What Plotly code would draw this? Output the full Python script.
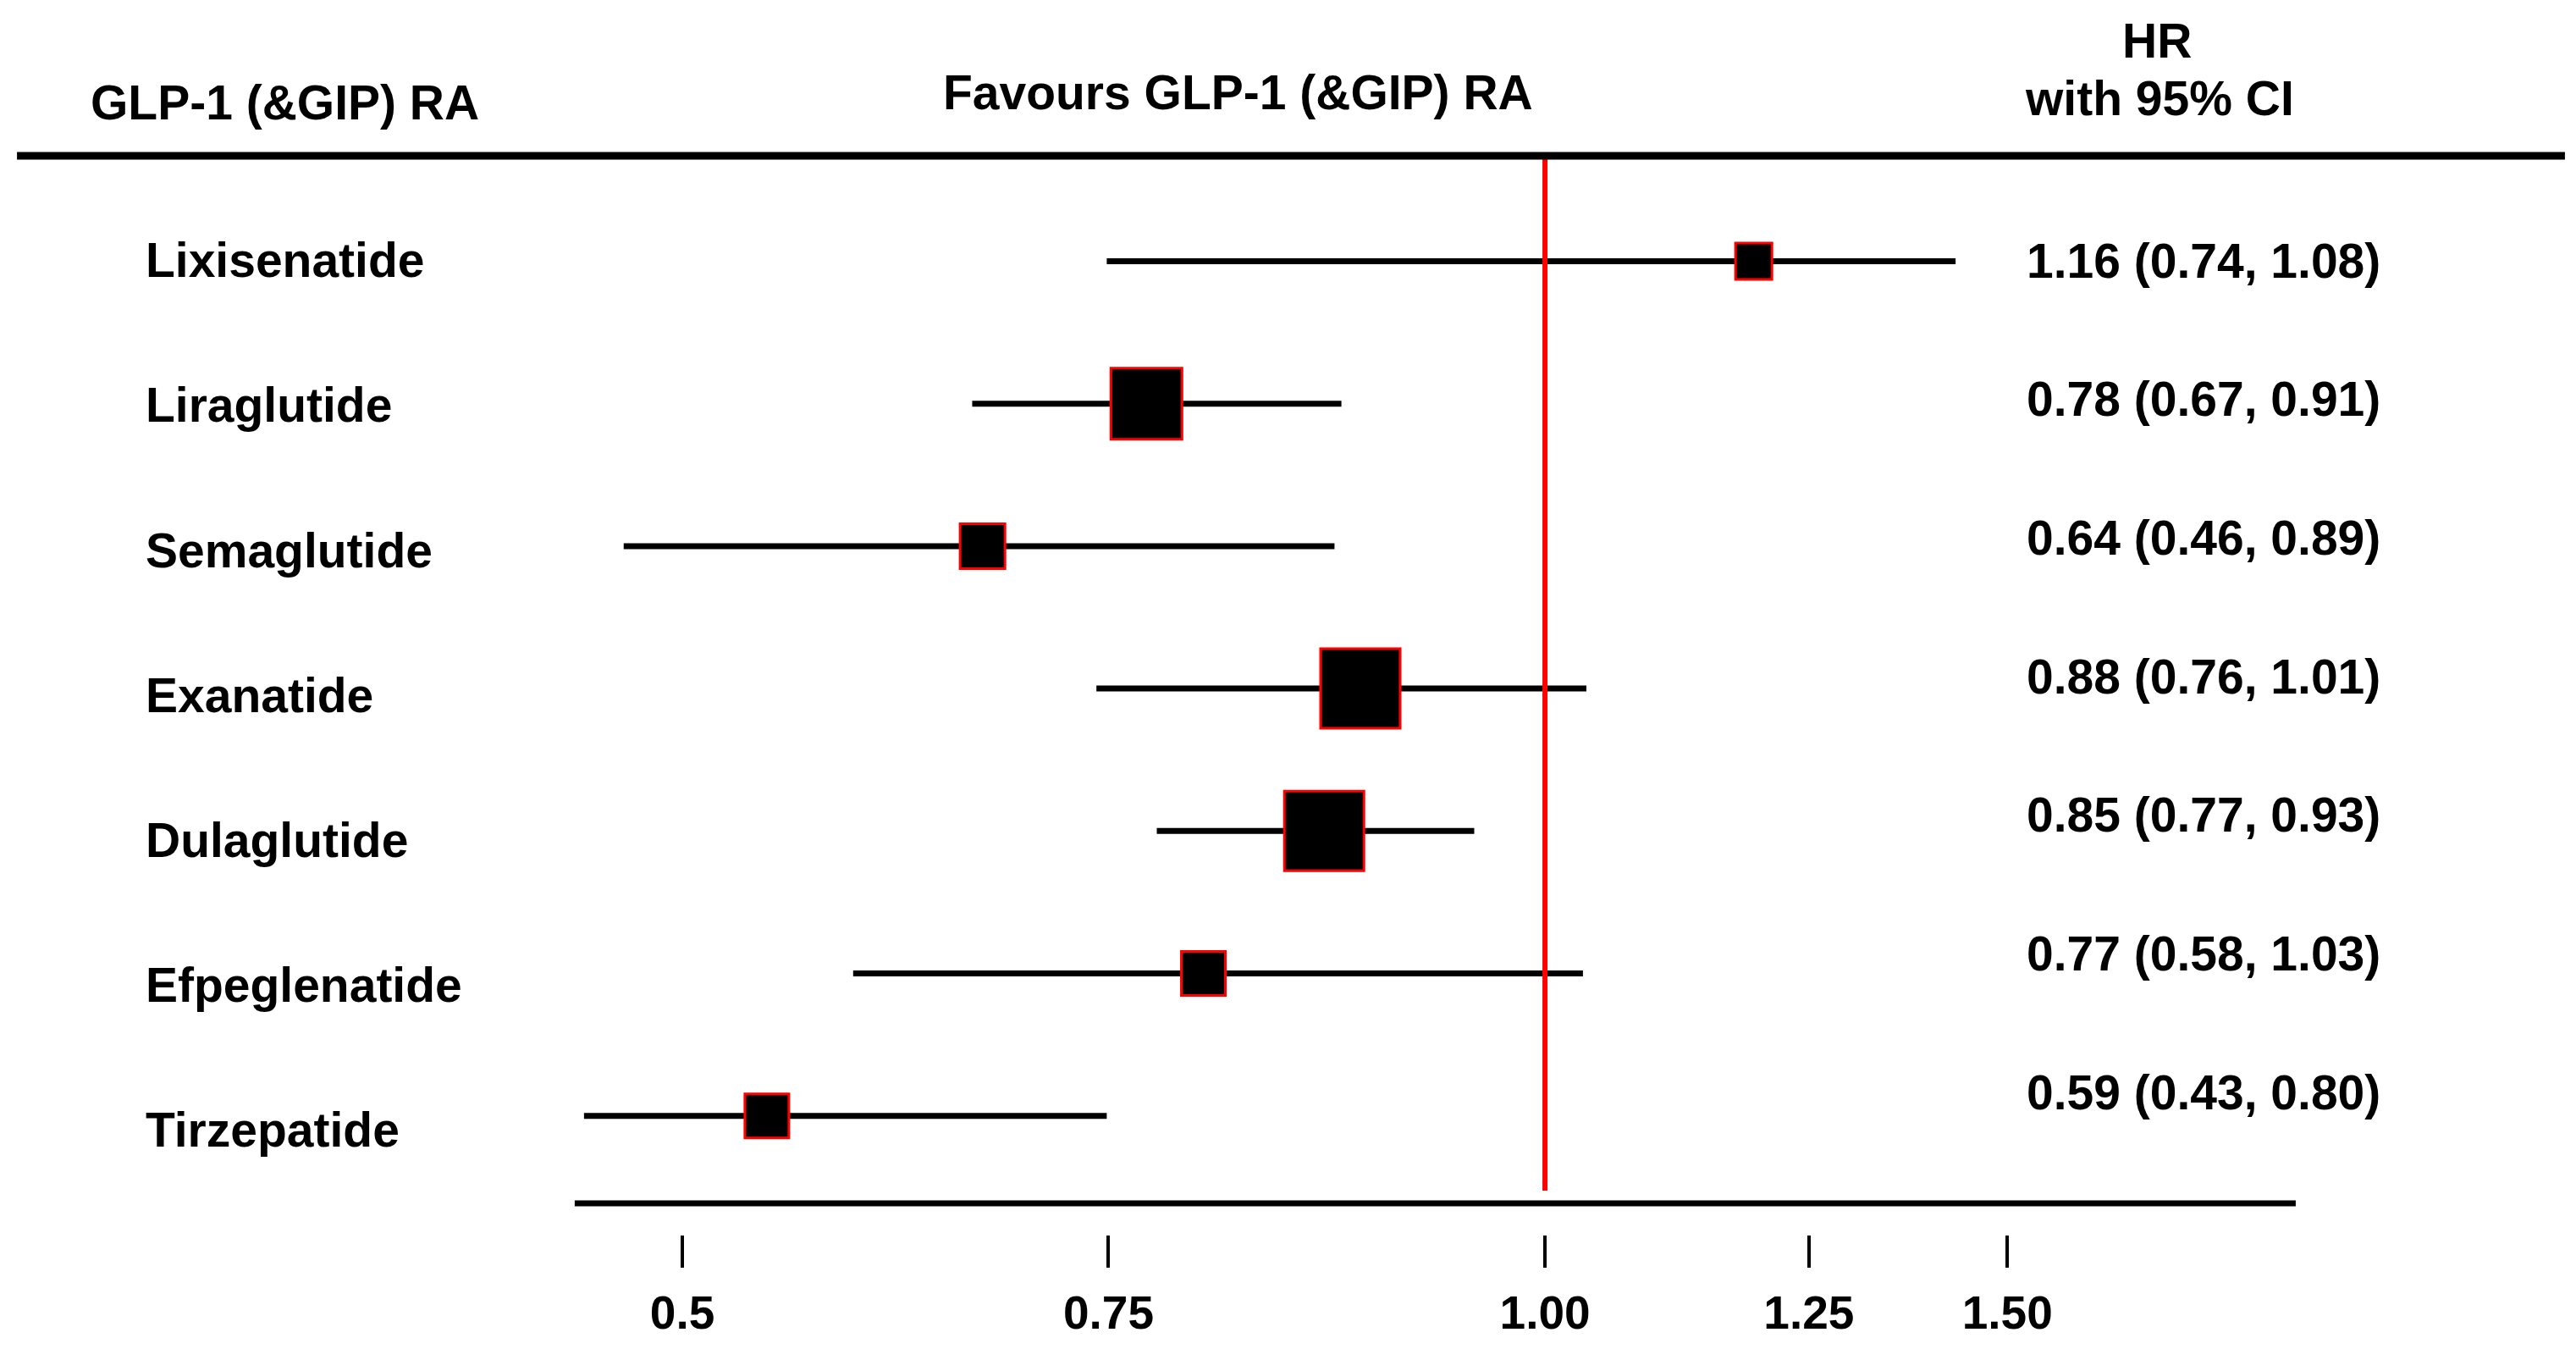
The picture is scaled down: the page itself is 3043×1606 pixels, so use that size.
import plotly.graph_objects as go

# rows, top to bottom
drugs = ["Lixisenatide", "Liraglutide", "Semaglutide", "Exanatide",
         "Dulaglutide", "Efpeglenatide", "Tirzepatide"]
hr_labels = ["1.16 (0.74, 1.08)", "0.78 (0.67, 0.91)", "0.64 (0.46, 0.89)",
             "0.88 (0.76, 1.01)", "0.85 (0.77, 0.93)", "0.77 (0.58, 1.03)",
             "0.59 (0.43, 0.80)"]

# positions as drawn on the (hand-drawn, non-uniform) HR axis of the figure
hr_pos = [1.121, 0.769, 0.674, 0.893, 0.872, 0.802, 0.549]
ci_lo = [0.746, 0.668, 0.466, 0.740, 0.775, 0.599, 0.443]
ci_hi = [1.238, 0.882, 0.878, 1.024, 0.959, 1.022, 0.746]

# axis ticks as drawn
tick_pos = [0.5, 0.747, 1.0, 1.153, 1.268]
tick_text = ["0.5", "0.75", "1.00", "1.25", "1.50"]

# box sizes (study weight), px
box_px = [43, 84, 53, 94, 94, 52, 52]

FONT = "Liberation Sans, Arial, sans-serif"
W, H = 3043, 1606
rows = list(range(len(drugs)))

fig = go.Figure()
fig.add_trace(go.Scatter(
    x=hr_pos, y=rows, mode="markers",
    marker=dict(symbol="square", size=box_px, color="black", opacity=1,
                line=dict(color="red", width=3)),
    error_x=dict(type="data", symmetric=False,
                 array=[h - p for h, p in zip(ci_hi, hr_pos)],
                 arrayminus=[p - l for p, l in zip(hr_pos, ci_lo)],
                 width=0, thickness=7, color="black"),
    showlegend=False, hoverinfo="skip",
))

# line of no effect
fig.add_shape(type="line", xref="x", yref="paper", x0=1.0, x1=1.0,
              y0=0.1245, y1=0.8854, line=dict(color="red", width=6))
# header rule and axis rule
fig.add_shape(type="line", xref="paper", yref="paper", x0=0.0066, x1=0.9957,
              y0=0.8854, y1=0.8854, line=dict(color="black", width=9))
fig.add_shape(type="line", xref="paper", yref="paper", x0=0.2231, x1=0.8912,
              y0=0.1152, y1=0.1152, line=dict(color="black", width=7))

annotations = []
for i, (name, lab) in enumerate(zip(drugs, hr_labels)):
    # the text columns sit on their own, slightly different row spacing
    annotations.append(dict(x=170 / W, xref="paper", y=i, yref="y3",
                            text=f"<b>{name}</b>", showarrow=False,
                            xanchor="left", yanchor="middle"))
    annotations.append(dict(x=2392 / W, xref="paper", y=i, yref="y2",
                            text=f"<b>{lab}</b>", showarrow=False,
                            xanchor="left", yanchor="middle"))

headers = [
    ("GLP-1 (&GIP) RA", 336, 121),
    ("Favours GLP-1 (&GIP) RA", 1462, 109),
    ("HR", 2548, 48),
    ("with 95% CI", 2551, 116),
]
for txt, px, py in headers:
    annotations.append(dict(x=px / W, xref="paper", y=1 - py / H, yref="paper",
                            text=f"<b>{txt}</b>", showarrow=False,
                            xanchor="center", yanchor="middle"))

fig.update_layout(
    width=W, height=H,
    margin=dict(l=0, r=0, t=0, b=0),
    paper_bgcolor="white", plot_bgcolor="white",
    font=dict(family=FONT, size=57, color="black"),
    annotations=annotations,
    xaxis=dict(range=[0.1045, 1.5976], domain=[0, 1], anchor="free",
               position=0.0922, tickmode="array", tickvals=tick_pos,
               ticktext=[f"<b>{t}</b>" for t in tick_text],
               ticks="outside", ticklen=38, tickwidth=4, tickcolor="black",
               ticklabelstandoff=6,
               tickfont=dict(size=55, color="black", family=FONT),
               showgrid=False, zeroline=False, showline=False),
    yaxis=dict(range=[7.714, -1.834], visible=False),
    yaxis2=dict(range=[7.930, -1.878], overlaying="y", visible=False),
    yaxis3=dict(range=[7.587, -1.794], overlaying="y", visible=False),
)

fig.write_html("out.html", config={"displayModeBar": False},
               post_script="document.body.style.margin='0';"
                           "document.body.style.overflow='hidden';")
